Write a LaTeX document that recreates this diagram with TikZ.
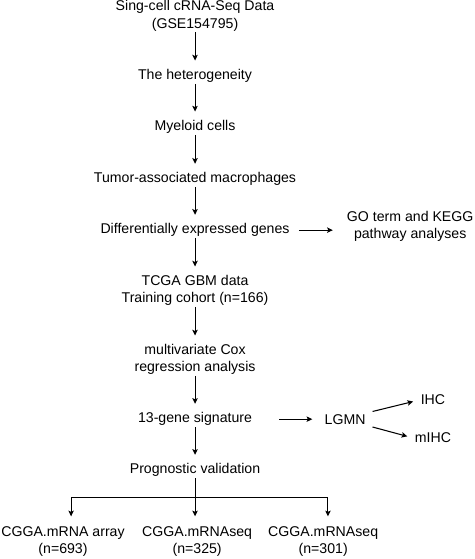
\documentclass[tikz,border=0pt]{standalone}
\usepackage{fontspec}
\setmainfont{Liberation Sans}
\usetikzlibrary{arrows.meta,calc}

\begin{document}
\begin{tikzpicture}[
  txt/.style={align=center,inner sep=1pt,font=\fontsize{13.4}{16.3}\selectfont},
  arr/.style={-{Stealth[length=1.9mm,width=1.8mm,inset=0.4mm]},line width=1pt,shorten >=2.5mm},
  ln/.style={line width=1pt}]
\useasboundingbox (0,0) rectangle (15.8,-18.63);
\node[txt] (src) at (6.5,-0.53) {Sing-cell cRNA-Seq Data\\(GSE154795)};
\node[txt] (het) at (6.5,-2.53) {The heterogeneity};
\node[txt] (mye) at (6.5,-4.23) {Myeloid cells};
\node[txt] (tam) at (6.5,-5.97) {Tumor-associated macrophages};
\node[txt] (deg) at (6.5,-7.67) {Differentially expressed genes};
\node[txt] (go) at (13.67,-7.53) {GO term and KEGG\\pathway analyses};
\node[txt] (tcga) at (6.5,-9.68) {TCGA GBM data\\Training cohort (n=166)};
\node[txt] (cox) at (6.5,-11.98) {multivariate Cox\\regression analysis};
\node[txt] (sig) at (6.5,-13.97) {13-gene signature};
\node[txt] (lgmn) at (11.5,-13.97) {LGMN};
\node[txt] (ihc) at (14.43,-13.33) {IHC};
\node[txt] (mihc) at (14.43,-14.6) {mIHC};
\node[txt] (val) at (6.5,-15.67) {Prognostic validation};
\node[txt] (c1) at (2.1,-18.05) {CGGA.mRNA array\\(n=693)};
\node[txt] (c2) at (6.57,-18.05) {CGGA.mRNAseq\\(n=325)};
\node[txt] (c3) at (10.77,-18.05) {CGGA.mRNAseq\\(n=301)};
\coordinate (bl) at (2.37,-16.57);
\coordinate (br) at (10.93,-16.57);
% main column
\foreach \a/\b in {src/het,het/mye,mye/tam,tam/deg,deg/tcga,tcga/cox,cox/sig,sig/val}
  \draw[arr] (\a)--(\b);
% side branches
\draw[arr,shorten <=2.7mm,shorten >=4.3mm] (deg.east)--(go.west |- deg.east);
\draw[arr,shorten <=8.7mm,shorten >=3.7mm] (sig.east)--(lgmn.west);
\draw[arr,shorten <=2mm,shorten >=2.2mm] (lgmn.north east)--(ihc.west);
\draw[arr,shorten <=2mm,shorten >=2.2mm] (lgmn.south east)--(mihc.west);
% validation cohorts
\draw[ln] (val.south)--(val.south |- bl);
\draw[ln] (bl)--(br);
\draw[arr,shorten >=3mm] (val.south)--(val.south |- c2.north);
\foreach \c in {bl,br} \draw[arr,shorten >=3mm] (\c)--(\c |- c1.north);
\end{tikzpicture}
\end{document}
